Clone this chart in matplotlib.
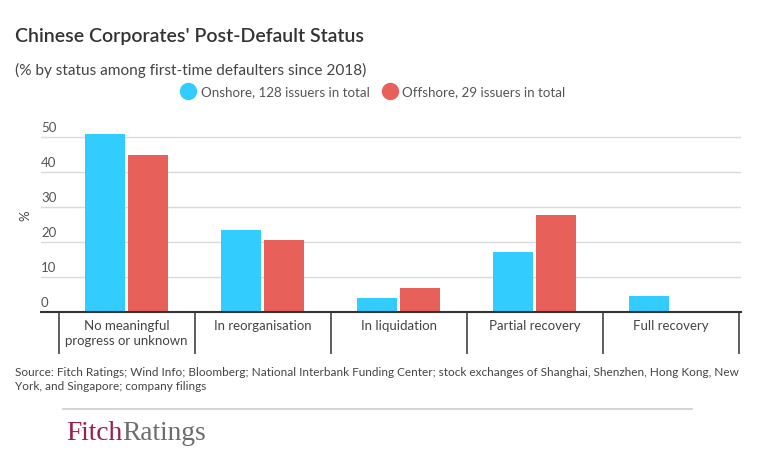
import numpy as np
import matplotlib.pyplot as plt
from matplotlib.lines import Line2D

categories = ['No meaningful\nprogress or unknown', 'In reorganisation', 'In liquidation',
              'Partial recovery', 'Full recovery']
onshore = [50.8, 23.4, 3.9, 17.2, 4.7]     # 128 issuers
offshore = [44.8, 20.7, 6.9, 27.6, 0.0]    # 29 issuers
series_names = ['Onshore, 128 issuers in total', 'Offshore, 29 issuers in total']
yticks = [0, 10, 20, 30, 40, 50]

blue = '#33ccff'
red = '#e8605a'
W, H = 761, 461

plt.rcParams['font.family'] = ['Lato', 'DejaVu Sans']

fig = plt.figure(figsize=(W / 100, H / 100), dpi=100)
ax = fig.add_axes([41 / W, (H - 312) / H, 700 / W, 192.5 / H])

x = np.arange(len(categories))
ax.bar(x - 0.161, onshore, width=0.298, color=blue, zorder=2)
ax.bar(x + 0.156, offshore, width=0.298, color=red, zorder=2)

ax.set_xlim(-0.630, 4.517)
ax.set_ylim(0, 55)

for s in ['top', 'right', 'left']:
    ax.spines[s].set_visible(False)
ax.spines['bottom'].set_color('#333333')
ax.spines['bottom'].set_linewidth(1.5)
ax.spines['bottom'].set_zorder(3)

# gridlines, with the labels sitting on top of them
ax.set_yticks(yticks)
ax.set_yticklabels([])
ax.tick_params(axis='y', length=0)
ax.yaxis.grid(True, color='#dadada', linewidth=1)
ax.set_axisbelow(True)
for v in yticks:
    ax.text(0.0, v + 1.3, str(v), transform=ax.get_yaxis_transform(), ha='left', va='baseline',
            fontsize=9.5, color='#555555')

ax.set_ylabel('%', fontsize=9.5, color='#444444')
ax.yaxis.set_label_coords(-0.0136, 0.5)

# category labels and separators
ax.set_xticks(x)
ax.set_xticklabels(categories, fontsize=9.5, color='#444444', linespacing=1.3)
ax.tick_params(axis='x', which='major', length=0, pad=5.5)
ax.set_xticks(np.arange(len(categories) + 1) - 0.5, minor=True)
ax.tick_params(axis='x', which='minor', length=30, width=1.1, color='#333333', direction='out')

# title, subtitle
fig.text(15 / W, 1 - 41.7 / H, "Chinese Corporates' Post-Default Status", fontsize=14,
         fontweight='semibold', color='#333333', va='baseline')
fig.text(15 / W, 1 - 75 / H, '(% by status among first-time defaulters since 2018)', fontsize=11.1,
         color='#444444', va='baseline')

# legend
handles = [Line2D([], [], marker='o', linestyle='none', markersize=11.5, color=c)
           for c in [blue, red]]
fig.legend(handles, series_names, loc='center', bbox_to_anchor=(373 / W, 1 - 92 / H), ncol=2,
           frameon=False, fontsize=9.6, labelcolor='#555555', handletextpad=0.35,
           columnspacing=0.9, handlelength=1.2)

# source
fig.text(15 / W, 1 - 367 / H,
         'Source: Fitch Ratings; Wind Info; Bloomberg; National Interbank Funding Center; stock exchanges '
         'of Shanghai, Shenzhen, Hong Kong, New\nYork, and Singapore; company filings',
         fontsize=8.5, color='#444444', va='top', linespacing=1.35)

fig.add_artist(Line2D([63 / W, 692 / W], [1 - 409 / H, 1 - 409 / H], color='#cccccc', linewidth=1.2))

# logo
t1 = fig.text(66 / W, 1 - 446 / H, 'Fitch', fontsize=19.8, family='Liberation Serif',
              color='#9e1f45', va='bottom')
ax.annotate('Ratings', xy=(1, 0), xycoords=t1, fontsize=19.8, family='Liberation Serif',
            color='#6b6d70', va='bottom', ha='left', annotation_clip=False)

fig.savefig('out.png', dpi=100)
